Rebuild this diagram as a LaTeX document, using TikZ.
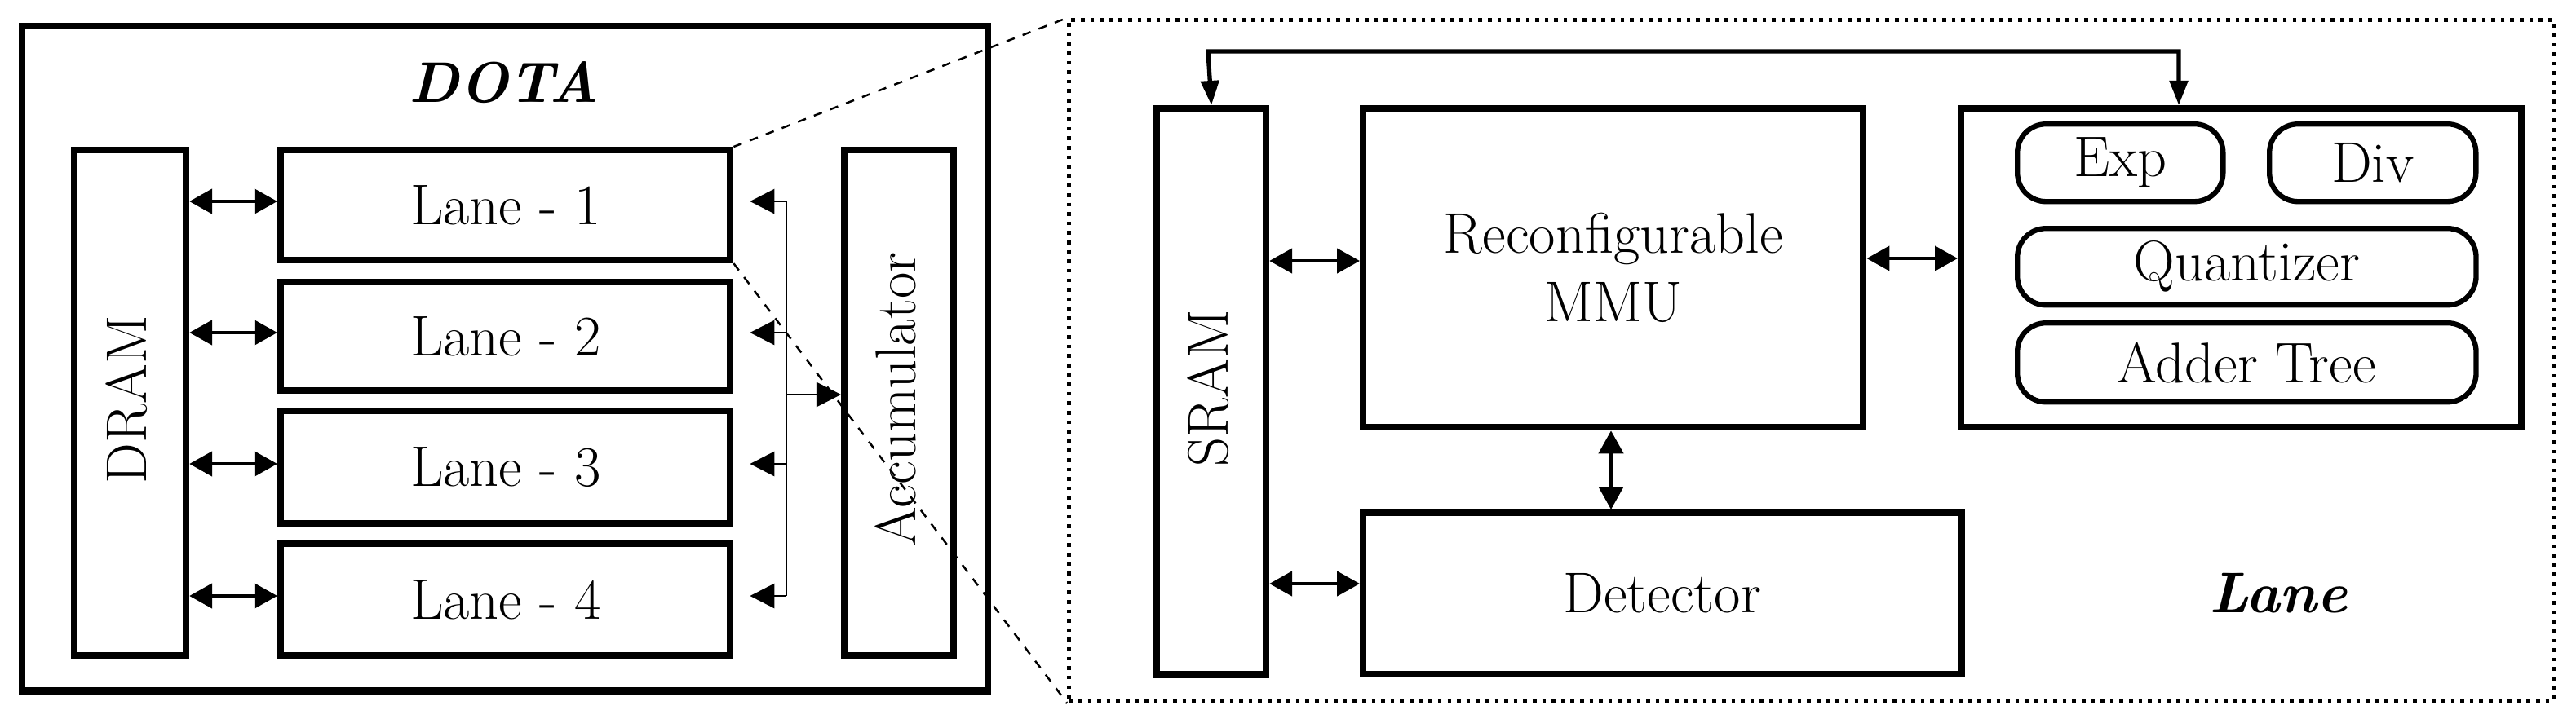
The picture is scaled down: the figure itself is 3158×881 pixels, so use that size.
\documentclass[tikz,border=0pt]{standalone}
\usetikzlibrary{arrows.meta}
\begin{document}
\begin{tikzpicture}[x=0.01cm,y=-0.01cm,
  box/.style={draw,line width=2.3pt,inner sep=0pt,font=\fontsize{20}{24}\selectfont,align=center},
  rbox/.style={box,line width=1.8pt,rounded corners=10pt},
  tip/.style={-{Triangle[length=0.3cm,width=0.3cm]}},
  dtip/.style={{Triangle[length=0.28cm,width=0.3cm]}-{Triangle[length=0.28cm,width=0.3cm]}},
  conn/.style={line width=1.3pt},
  txt/.style={font=\fontsize{20}{24}\selectfont}]
\useasboundingbox (0,0) rectangle (3158,881);
% DOTA
\node[box,minimum width=1183\pgflinewidth*0+11.83cm,minimum height=8.15cm,anchor=north west] (dota) at (23,28) {};
\node[txt,font=\fontsize{20}{24}\selectfont\bfseries\itshape] (dtitle) at (618,101) {DOTA};
\node[box,minimum width=1.37cm,minimum height=6.2cm,anchor=north west] (dram) at (87,180) {};
\node[txt,rotate=90] (dramt) at (155.5,490) {DRAM};
\node[box,minimum width=5.51cm,minimum height=1.35cm,anchor=north west] (l1) at (340,180) {Lane - 1};
\node[box,minimum width=5.51cm,minimum height=1.33cm,anchor=north west] (l2) at (340,342) {Lane - 2};
\node[box,minimum width=5.51cm,minimum height=1.38cm,anchor=north west] (l3) at (340,500) {Lane - 3};
\node[box,minimum width=5.51cm,minimum height=1.37cm,anchor=north west] (l4) at (340,663) {Lane - 4};
\node[box,minimum width=1.34cm,minimum height=6.2cm,anchor=north west] (acc) at (1031,180) {};
\node[txt,rotate=90] (acct) at (1098,490) {Accumulator};
\foreach \i/\y in {1/247,2/408,3/569,4/731}{
  \draw[conn,dtip] (dram.east|-0,\y) -- (l\i.west|-0,\y);
}
\coordinate (bt) at (964,247);
\coordinate (bb) at (964,731);
\draw[line width=0.8pt] (bt) -- (bb);
\foreach \i/\y in {1/247,2/408,3/569,4/731}{
  \draw[line width=0.8pt,tip] (964,\y) -- ([xshift=0.2cm]l\i.east|-0,\y);
}
\coordinate (ba) at (964,484);
\draw[line width=0.8pt,tip] (ba) -- (acc.west|-ba);
% Lane detail
\node[draw,line width=1.3pt,dotted,minimum width=18.19cm,minimum height=8.35cm,anchor=north west] (lane) at (1308,22) {};
\draw[line width=0.7pt,dashed] (l1.north east) -- (lane.north west);
\draw[line width=0.7pt,dashed] (l1.south east) -- (lane.south west);
\node[box,minimum width=1.34cm,minimum height=6.94cm,anchor=north west] (sram) at (1414,129) {};
\node[txt,rotate=90] (sramt) at (1481,476) {SRAM};
\node[box,minimum width=6.13cm,minimum height=3.91cm,anchor=north west] (mmu) at (1667,129) {Reconfigurable\\MMU};
\node[box,minimum width=6.87cm,minimum height=3.91cm,anchor=north west] (fu) at (2400,129) {};
\node[rbox,minimum width=2.52cm,minimum height=0.95cm,anchor=north west] (exp) at (2470,149) {Exp};
\node[rbox,minimum width=2.53cm,minimum height=0.95cm,anchor=north west] (div) at (2779,149) {Div};
\node[rbox,minimum width=5.62cm,minimum height=0.94cm,anchor=north west] (q) at (2470,277) {Quantizer};
\node[rbox,minimum width=5.62cm,minimum height=0.97cm,anchor=north west] (add) at (2470,393) {Adder Tree};
\node[box,minimum width=7.33cm,minimum height=1.98cm,anchor=north west] (det) at (1667,625) {Detector};
\node[txt,font=\fontsize{20}{24}\selectfont\bfseries\itshape] (lanet) at (2793,728) {Lane};
\draw[conn,dtip] (sram.east|-0,320) -- (mmu.west|-0,320);
\draw[conn,dtip] (sram.east|-0,716) -- (det.west|-0,716);
\draw[conn,dtip] (mmu.east|-0,317) -- (fu.west|-0,317);
\draw[conn,dtip] (mmu.south-|1975,0) -- (det.north-|1975,0);
\coordinate (tl) at (1481,63);
\coordinate (tr) at (2671,63);
\draw[line width=1.5pt,{Triangle[length=0.3cm,width=0.22cm]}-{Triangle[length=0.3cm,width=0.22cm]}] (sram.north) -- (tl) -- (tr) -- (fu.north-|tr);
\end{tikzpicture}
\end{document}
